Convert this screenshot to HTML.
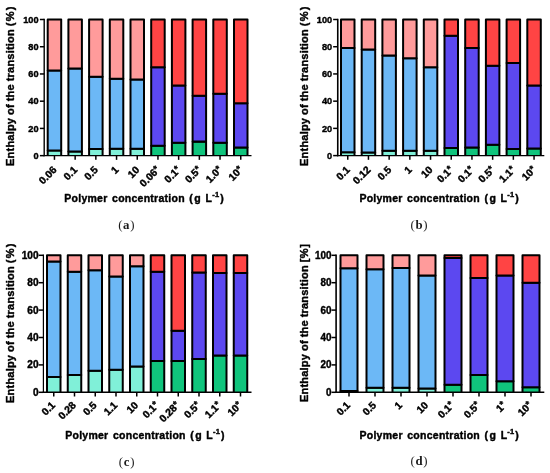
<!DOCTYPE html>
<html><head><meta charset="utf-8"><title>Figure</title>
<style>html,body{margin:0;padding:0;background:#fff}svg{display:block}</style></head>
<body>
<svg width="550" height="473" viewBox="0 0 550 473">
<rect width="100%" height="100%" fill="#fff"/>
<g id="chart-a" font-family="Liberation Sans, Arial, sans-serif" font-weight="bold" fill="#000" stroke="#000" stroke-width="0.4" stroke-linejoin="round">
<path d="M47.70,155.95L47.70,150.61L61.20,150.61L61.20,155.95" fill="#80f0d8" stroke="#000" stroke-width="2.0"/>
<rect x="47.70" y="70.56" width="13.50" height="80.06" fill="#6cb8f6" stroke="#000" stroke-width="2.0"/>
<rect x="47.70" y="19.40" width="13.50" height="51.16" fill="#ff9b9b" stroke="#000" stroke-width="2.0"/>
<line x1="54.45" y1="155.65" x2="54.45" y2="159.85" stroke="#000" stroke-width="1.5"/>
<text transform="translate(57.25,170.55) rotate(-45)" text-anchor="end" font-size="10.3">0.06</text>
<path d="M68.40,155.95L68.40,151.57L81.90,151.57L81.90,155.95" fill="#80f0d8" stroke="#000" stroke-width="2.0"/>
<rect x="68.40" y="68.51" width="13.50" height="83.05" fill="#6cb8f6" stroke="#000" stroke-width="2.0"/>
<rect x="68.40" y="19.40" width="13.50" height="49.11" fill="#ff9b9b" stroke="#000" stroke-width="2.0"/>
<line x1="75.15" y1="155.65" x2="75.15" y2="159.85" stroke="#000" stroke-width="1.5"/>
<text transform="translate(77.95,170.55) rotate(-45)" text-anchor="end" font-size="10.3">0.1</text>
<path d="M89.10,155.95L89.10,149.11L102.60,149.11L102.60,155.95" fill="#80f0d8" stroke="#000" stroke-width="2.0"/>
<rect x="89.10" y="76.68" width="13.50" height="72.43" fill="#6cb8f6" stroke="#000" stroke-width="2.0"/>
<rect x="89.10" y="19.40" width="13.50" height="57.28" fill="#ff9b9b" stroke="#000" stroke-width="2.0"/>
<line x1="95.85" y1="155.65" x2="95.85" y2="159.85" stroke="#000" stroke-width="1.5"/>
<text transform="translate(98.65,170.55) rotate(-45)" text-anchor="end" font-size="10.3">0.5</text>
<path d="M109.80,155.95L109.80,148.84L123.30,148.84L123.30,155.95" fill="#80f0d8" stroke="#000" stroke-width="2.0"/>
<rect x="109.80" y="78.73" width="13.50" height="70.12" fill="#6cb8f6" stroke="#000" stroke-width="2.0"/>
<rect x="109.80" y="19.40" width="13.50" height="59.33" fill="#ff9b9b" stroke="#000" stroke-width="2.0"/>
<line x1="116.55" y1="155.65" x2="116.55" y2="159.85" stroke="#000" stroke-width="1.5"/>
<text transform="translate(119.35,170.55) rotate(-45)" text-anchor="end" font-size="10.3">1</text>
<path d="M130.50,155.95L130.50,148.84L144.00,148.84L144.00,155.95" fill="#80f0d8" stroke="#000" stroke-width="2.0"/>
<rect x="130.50" y="79.41" width="13.50" height="69.44" fill="#6cb8f6" stroke="#000" stroke-width="2.0"/>
<rect x="130.50" y="19.40" width="13.50" height="60.01" fill="#ff9b9b" stroke="#000" stroke-width="2.0"/>
<line x1="137.25" y1="155.65" x2="137.25" y2="159.85" stroke="#000" stroke-width="1.5"/>
<text transform="translate(140.05,170.55) rotate(-45)" text-anchor="end" font-size="10.3">10</text>
<path d="M151.20,155.95L151.20,145.71L164.70,145.71L164.70,155.95" fill="#10c47c" stroke="#000" stroke-width="2.0"/>
<rect x="151.20" y="67.15" width="13.50" height="78.56" fill="#5c48f0" stroke="#000" stroke-width="2.0"/>
<rect x="151.20" y="19.40" width="13.50" height="47.75" fill="#ff4444" stroke="#000" stroke-width="2.0"/>
<line x1="157.95" y1="155.65" x2="157.95" y2="159.85" stroke="#000" stroke-width="1.5"/>
<text transform="translate(160.75,170.55) rotate(-45)" text-anchor="end" font-size="10.3">0.06<tspan dy="-1.5" dx="0.2" font-size="9.4">*</tspan></text>
<path d="M171.90,155.95L171.90,142.72L185.40,142.72L185.40,155.95" fill="#10c47c" stroke="#000" stroke-width="2.0"/>
<rect x="171.90" y="85.53" width="13.50" height="57.18" fill="#5c48f0" stroke="#000" stroke-width="2.0"/>
<rect x="171.90" y="19.40" width="13.50" height="66.13" fill="#ff4444" stroke="#000" stroke-width="2.0"/>
<line x1="178.65" y1="155.65" x2="178.65" y2="159.85" stroke="#000" stroke-width="1.5"/>
<text transform="translate(181.45,170.55) rotate(-45)" text-anchor="end" font-size="10.3">0.1<tspan dy="-1.5" dx="0.2" font-size="9.4">*</tspan></text>
<path d="M192.60,155.95L192.60,141.63L206.10,141.63L206.10,155.95" fill="#10c47c" stroke="#000" stroke-width="2.0"/>
<rect x="192.60" y="95.74" width="13.50" height="45.88" fill="#5c48f0" stroke="#000" stroke-width="2.0"/>
<rect x="192.60" y="19.40" width="13.50" height="76.34" fill="#ff4444" stroke="#000" stroke-width="2.0"/>
<line x1="199.35" y1="155.65" x2="199.35" y2="159.85" stroke="#000" stroke-width="1.5"/>
<text transform="translate(202.15,170.55) rotate(-45)" text-anchor="end" font-size="10.3">0.5<tspan dy="-1.5" dx="0.2" font-size="9.4">*</tspan></text>
<path d="M213.30,155.95L213.30,142.72L226.80,142.72L226.80,155.95" fill="#10c47c" stroke="#000" stroke-width="2.0"/>
<rect x="213.30" y="93.70" width="13.50" height="49.01" fill="#5c48f0" stroke="#000" stroke-width="2.0"/>
<rect x="213.30" y="19.40" width="13.50" height="74.30" fill="#ff4444" stroke="#000" stroke-width="2.0"/>
<line x1="220.05" y1="155.65" x2="220.05" y2="159.85" stroke="#000" stroke-width="1.5"/>
<text transform="translate(222.85,170.55) rotate(-45)" text-anchor="end" font-size="10.3">1.0<tspan dy="-1.5" dx="0.2" font-size="9.4">*</tspan></text>
<path d="M234.00,155.95L234.00,147.48L247.50,147.48L247.50,155.95" fill="#10c47c" stroke="#000" stroke-width="2.0"/>
<rect x="234.00" y="103.23" width="13.50" height="44.25" fill="#5c48f0" stroke="#000" stroke-width="2.0"/>
<rect x="234.00" y="19.40" width="13.50" height="83.83" fill="#ff4444" stroke="#000" stroke-width="2.0"/>
<line x1="240.75" y1="155.65" x2="240.75" y2="159.85" stroke="#000" stroke-width="1.5"/>
<text transform="translate(243.55,170.55) rotate(-45)" text-anchor="end" font-size="10.3">10<tspan dy="-1.5" dx="0.2" font-size="9.4">*</tspan></text>
<line x1="44.20" y1="18.80" x2="44.20" y2="156.35" stroke="#000" stroke-width="1.4"/>
<line x1="43.50" y1="155.65" x2="251.50" y2="155.65" stroke="#000" stroke-width="1.4"/>
<line x1="39.90" y1="155.65" x2="44.20" y2="155.65" stroke="#000" stroke-width="1.5"/>
<text transform="translate(38.60,158.85) scale(0.95,1)" text-anchor="end" font-size="9.7">0</text>
<line x1="39.90" y1="128.42" x2="44.20" y2="128.42" stroke="#000" stroke-width="1.5"/>
<text transform="translate(38.60,131.62) scale(0.95,1)" text-anchor="end" font-size="9.7">20</text>
<line x1="39.90" y1="101.19" x2="44.20" y2="101.19" stroke="#000" stroke-width="1.5"/>
<text transform="translate(38.60,104.39) scale(0.95,1)" text-anchor="end" font-size="9.7">40</text>
<line x1="39.90" y1="73.96" x2="44.20" y2="73.96" stroke="#000" stroke-width="1.5"/>
<text transform="translate(38.60,77.16) scale(0.95,1)" text-anchor="end" font-size="9.7">60</text>
<line x1="39.90" y1="46.73" x2="44.20" y2="46.73" stroke="#000" stroke-width="1.5"/>
<text transform="translate(38.60,49.93) scale(0.95,1)" text-anchor="end" font-size="9.7">80</text>
<line x1="39.90" y1="19.50" x2="44.20" y2="19.50" stroke="#000" stroke-width="1.5"/>
<text transform="translate(38.60,22.70) scale(0.95,1)" text-anchor="end" font-size="9.7">100</text>
<text class="yl" transform="translate(14.40,86.20) rotate(-90)" text-anchor="middle" font-size="11.1" letter-spacing="0.17" word-spacing="-0.4">Enthalpy of the transition (<tspan dx="1.0">%</tspan><tspan dx="1.0">)</tspan></text>
<text class="xl" x="144.10" y="201.80" text-anchor="middle" font-size="10.5" letter-spacing="0.26" word-spacing="1.3">Polymer concentration (<tspan dx="1.2">g</tspan> L<tspan font-size="7.5" dy="-4.6">-1</tspan><tspan dy="4.6" dx="0.8">)</tspan></text>
</g>
<text class="cap" x="126.65" y="228.80" text-anchor="middle" font-family="Liberation Serif, serif" font-size="12.8" letter-spacing="0.7" fill="#1a1a1a">(<tspan font-weight="bold">a</tspan>)</text>
<g id="chart-b" font-family="Liberation Sans, Arial, sans-serif" font-weight="bold" fill="#000" stroke="#000" stroke-width="0.4" stroke-linejoin="round">
<path d="M341.00,155.90L341.00,152.20L354.50,152.20L354.50,155.90" fill="#80f0d8" stroke="#000" stroke-width="2.0"/>
<rect x="341.00" y="48.08" width="13.50" height="104.12" fill="#6cb8f6" stroke="#000" stroke-width="2.0"/>
<rect x="341.00" y="19.40" width="13.50" height="28.68" fill="#ff9b9b" stroke="#000" stroke-width="2.0"/>
<line x1="347.75" y1="155.60" x2="347.75" y2="159.80" stroke="#000" stroke-width="1.5"/>
<text transform="translate(350.55,170.50) rotate(-45)" text-anchor="end" font-size="10.3">0.1</text>
<path d="M361.70,155.90L361.70,152.61L375.20,152.61L375.20,155.90" fill="#80f0d8" stroke="#000" stroke-width="2.0"/>
<rect x="361.70" y="49.44" width="13.50" height="103.16" fill="#6cb8f6" stroke="#000" stroke-width="2.0"/>
<rect x="361.70" y="19.40" width="13.50" height="30.04" fill="#ff9b9b" stroke="#000" stroke-width="2.0"/>
<line x1="368.45" y1="155.60" x2="368.45" y2="159.80" stroke="#000" stroke-width="1.5"/>
<text transform="translate(371.25,170.50) rotate(-45)" text-anchor="end" font-size="10.3">0.12</text>
<path d="M382.40,155.90L382.40,150.70L395.90,150.70L395.90,155.90" fill="#80f0d8" stroke="#000" stroke-width="2.0"/>
<rect x="382.40" y="55.57" width="13.50" height="95.13" fill="#6cb8f6" stroke="#000" stroke-width="2.0"/>
<rect x="382.40" y="19.40" width="13.50" height="36.17" fill="#ff9b9b" stroke="#000" stroke-width="2.0"/>
<line x1="389.15" y1="155.60" x2="389.15" y2="159.80" stroke="#000" stroke-width="1.5"/>
<text transform="translate(391.95,170.50) rotate(-45)" text-anchor="end" font-size="10.3">0.5</text>
<path d="M403.10,155.90L403.10,150.70L416.60,150.70L416.60,155.90" fill="#80f0d8" stroke="#000" stroke-width="2.0"/>
<rect x="403.10" y="58.29" width="13.50" height="92.41" fill="#6cb8f6" stroke="#000" stroke-width="2.0"/>
<rect x="403.10" y="19.40" width="13.50" height="38.89" fill="#ff9b9b" stroke="#000" stroke-width="2.0"/>
<line x1="409.85" y1="155.60" x2="409.85" y2="159.80" stroke="#000" stroke-width="1.5"/>
<text transform="translate(412.65,170.50) rotate(-45)" text-anchor="end" font-size="10.3">1</text>
<path d="M423.80,155.90L423.80,150.70L437.30,150.70L437.30,155.90" fill="#80f0d8" stroke="#000" stroke-width="2.0"/>
<rect x="423.80" y="67.13" width="13.50" height="83.57" fill="#6cb8f6" stroke="#000" stroke-width="2.0"/>
<rect x="423.80" y="19.40" width="13.50" height="47.73" fill="#ff9b9b" stroke="#000" stroke-width="2.0"/>
<line x1="430.55" y1="155.60" x2="430.55" y2="159.80" stroke="#000" stroke-width="1.5"/>
<text transform="translate(433.35,170.50) rotate(-45)" text-anchor="end" font-size="10.3">10</text>
<path d="M444.50,155.90L444.50,148.11L458.00,148.11L458.00,155.90" fill="#10c47c" stroke="#000" stroke-width="2.0"/>
<rect x="444.50" y="35.83" width="13.50" height="112.28" fill="#5c48f0" stroke="#000" stroke-width="2.0"/>
<rect x="444.50" y="19.40" width="13.50" height="16.43" fill="#ff4444" stroke="#000" stroke-width="2.0"/>
<line x1="451.25" y1="155.60" x2="451.25" y2="159.80" stroke="#000" stroke-width="1.5"/>
<text transform="translate(454.05,170.50) rotate(-45)" text-anchor="end" font-size="10.3">0.1<tspan dy="-1.5" dx="0.2" font-size="9.4">*</tspan></text>
<path d="M465.20,155.90L465.20,147.43L478.70,147.43L478.70,155.90" fill="#10c47c" stroke="#000" stroke-width="2.0"/>
<rect x="465.20" y="48.08" width="13.50" height="99.35" fill="#5c48f0" stroke="#000" stroke-width="2.0"/>
<rect x="465.20" y="19.40" width="13.50" height="28.68" fill="#ff4444" stroke="#000" stroke-width="2.0"/>
<line x1="471.95" y1="155.60" x2="471.95" y2="159.80" stroke="#000" stroke-width="1.5"/>
<text transform="translate(474.75,170.50) rotate(-45)" text-anchor="end" font-size="10.3">0.1<tspan dy="-1.5" dx="0.2" font-size="9.4">*</tspan></text>
<path d="M485.90,155.90L485.90,144.71L499.40,144.71L499.40,155.90" fill="#10c47c" stroke="#000" stroke-width="2.0"/>
<rect x="485.90" y="65.77" width="13.50" height="78.94" fill="#5c48f0" stroke="#000" stroke-width="2.0"/>
<rect x="485.90" y="19.40" width="13.50" height="46.37" fill="#ff4444" stroke="#000" stroke-width="2.0"/>
<line x1="492.65" y1="155.60" x2="492.65" y2="159.80" stroke="#000" stroke-width="1.5"/>
<text transform="translate(495.45,170.50) rotate(-45)" text-anchor="end" font-size="10.3">0.5<tspan dy="-1.5" dx="0.2" font-size="9.4">*</tspan></text>
<path d="M506.60,155.90L506.60,149.07L520.10,149.07L520.10,155.90" fill="#10c47c" stroke="#000" stroke-width="2.0"/>
<rect x="506.60" y="63.05" width="13.50" height="86.02" fill="#5c48f0" stroke="#000" stroke-width="2.0"/>
<rect x="506.60" y="19.40" width="13.50" height="43.65" fill="#ff4444" stroke="#000" stroke-width="2.0"/>
<line x1="513.35" y1="155.60" x2="513.35" y2="159.80" stroke="#000" stroke-width="1.5"/>
<text transform="translate(516.15,170.50) rotate(-45)" text-anchor="end" font-size="10.3">1.1<tspan dy="-1.5" dx="0.2" font-size="9.4">*</tspan></text>
<path d="M527.30,155.90L527.30,148.52L540.80,148.52L540.80,155.90" fill="#10c47c" stroke="#000" stroke-width="2.0"/>
<rect x="527.30" y="85.51" width="13.50" height="63.01" fill="#5c48f0" stroke="#000" stroke-width="2.0"/>
<rect x="527.30" y="19.40" width="13.50" height="66.11" fill="#ff4444" stroke="#000" stroke-width="2.0"/>
<line x1="534.05" y1="155.60" x2="534.05" y2="159.80" stroke="#000" stroke-width="1.5"/>
<text transform="translate(536.85,170.50) rotate(-45)" text-anchor="end" font-size="10.3">10<tspan dy="-1.5" dx="0.2" font-size="9.4">*</tspan></text>
<line x1="337.75" y1="18.80" x2="337.75" y2="156.30" stroke="#000" stroke-width="1.6"/>
<line x1="337.05" y1="155.60" x2="544.30" y2="155.60" stroke="#000" stroke-width="1.4"/>
<line x1="333.15" y1="155.60" x2="337.75" y2="155.60" stroke="#000" stroke-width="1.5"/>
<text transform="translate(332.15,158.80) scale(0.95,1)" text-anchor="end" font-size="9.7">0</text>
<line x1="333.15" y1="128.38" x2="337.75" y2="128.38" stroke="#000" stroke-width="1.5"/>
<text transform="translate(332.15,131.58) scale(0.95,1)" text-anchor="end" font-size="9.7">20</text>
<line x1="333.15" y1="101.16" x2="337.75" y2="101.16" stroke="#000" stroke-width="1.5"/>
<text transform="translate(332.15,104.36) scale(0.95,1)" text-anchor="end" font-size="9.7">40</text>
<line x1="333.15" y1="73.94" x2="337.75" y2="73.94" stroke="#000" stroke-width="1.5"/>
<text transform="translate(332.15,77.14) scale(0.95,1)" text-anchor="end" font-size="9.7">60</text>
<line x1="333.15" y1="46.72" x2="337.75" y2="46.72" stroke="#000" stroke-width="1.5"/>
<text transform="translate(332.15,49.92) scale(0.95,1)" text-anchor="end" font-size="9.7">80</text>
<line x1="333.15" y1="19.50" x2="337.75" y2="19.50" stroke="#000" stroke-width="1.5"/>
<text transform="translate(332.15,22.70) scale(0.95,1)" text-anchor="end" font-size="9.7">100</text>
<text class="yl" transform="translate(307.50,86.20) rotate(-90)" text-anchor="middle" font-size="11.1" letter-spacing="0.17" word-spacing="-0.4">Enthalpy of the transition (<tspan dx="1.0">%</tspan><tspan dx="1.0">)</tspan></text>
<text class="xl" x="439.20" y="202.00" text-anchor="middle" font-size="10.5" letter-spacing="0.26" word-spacing="1.3">Polymer concentration (<tspan dx="1.2">g</tspan> L<tspan font-size="7.5" dy="-4.6">-1</tspan><tspan dy="4.6" dx="0.8">)</tspan></text>
</g>
<text class="cap" x="419.45" y="228.70" text-anchor="middle" font-family="Liberation Serif, serif" font-size="12.8" letter-spacing="0.7" fill="#1a1a1a">(<tspan font-weight="bold">b</tspan>)</text>
<g id="chart-c" font-family="Liberation Sans, Arial, sans-serif" font-weight="bold" fill="#000" stroke="#000" stroke-width="0.4" stroke-linejoin="round">
<path d="M47.00,392.60L47.00,376.96L60.50,376.96L60.50,392.60" fill="#80f0d8" stroke="#000" stroke-width="2.0"/>
<rect x="47.00" y="261.47" width="13.50" height="115.49" fill="#6cb8f6" stroke="#000" stroke-width="2.0"/>
<rect x="47.00" y="255.20" width="13.50" height="6.27" fill="#ff9b9b" stroke="#000" stroke-width="2.0"/>
<line x1="53.75" y1="392.30" x2="53.75" y2="396.50" stroke="#000" stroke-width="1.5"/>
<text transform="translate(55.85,405.90) rotate(-45)" text-anchor="end" font-size="10.3">0.1</text>
<path d="M67.75,392.60L67.75,374.90L81.25,374.90L81.25,392.60" fill="#80f0d8" stroke="#000" stroke-width="2.0"/>
<rect x="67.75" y="271.74" width="13.50" height="103.16" fill="#6cb8f6" stroke="#000" stroke-width="2.0"/>
<rect x="67.75" y="255.20" width="13.50" height="16.54" fill="#ff9b9b" stroke="#000" stroke-width="2.0"/>
<line x1="74.50" y1="392.30" x2="74.50" y2="396.50" stroke="#000" stroke-width="1.5"/>
<text transform="translate(76.60,405.90) rotate(-45)" text-anchor="end" font-size="10.3">0.28</text>
<path d="M88.50,392.60L88.50,370.79L102.00,370.79L102.00,392.60" fill="#80f0d8" stroke="#000" stroke-width="2.0"/>
<rect x="88.50" y="270.37" width="13.50" height="100.42" fill="#6cb8f6" stroke="#000" stroke-width="2.0"/>
<rect x="88.50" y="255.20" width="13.50" height="15.17" fill="#ff9b9b" stroke="#000" stroke-width="2.0"/>
<line x1="95.25" y1="392.30" x2="95.25" y2="396.50" stroke="#000" stroke-width="1.5"/>
<text transform="translate(97.35,405.90) rotate(-45)" text-anchor="end" font-size="10.3">0.5</text>
<path d="M109.25,392.60L109.25,369.69L122.75,369.69L122.75,392.60" fill="#80f0d8" stroke="#000" stroke-width="2.0"/>
<rect x="109.25" y="276.53" width="13.50" height="93.16" fill="#6cb8f6" stroke="#000" stroke-width="2.0"/>
<rect x="109.25" y="255.20" width="13.50" height="21.33" fill="#ff9b9b" stroke="#000" stroke-width="2.0"/>
<line x1="116.00" y1="392.30" x2="116.00" y2="396.50" stroke="#000" stroke-width="1.5"/>
<text transform="translate(118.10,405.90) rotate(-45)" text-anchor="end" font-size="10.3">1.1</text>
<path d="M130.00,392.60L130.00,366.54L143.50,366.54L143.50,392.60" fill="#80f0d8" stroke="#000" stroke-width="2.0"/>
<rect x="130.00" y="266.26" width="13.50" height="100.28" fill="#6cb8f6" stroke="#000" stroke-width="2.0"/>
<rect x="130.00" y="255.20" width="13.50" height="11.06" fill="#ff9b9b" stroke="#000" stroke-width="2.0"/>
<line x1="136.75" y1="392.30" x2="136.75" y2="396.50" stroke="#000" stroke-width="1.5"/>
<text transform="translate(138.85,405.90) rotate(-45)" text-anchor="end" font-size="10.3">10</text>
<path d="M150.75,392.60L150.75,361.06L164.25,361.06L164.25,392.60" fill="#10c47c" stroke="#000" stroke-width="2.0"/>
<rect x="150.75" y="271.74" width="13.50" height="89.32" fill="#5c48f0" stroke="#000" stroke-width="2.0"/>
<rect x="150.75" y="255.20" width="13.50" height="16.54" fill="#ff4444" stroke="#000" stroke-width="2.0"/>
<line x1="157.50" y1="392.30" x2="157.50" y2="396.50" stroke="#000" stroke-width="1.5"/>
<text transform="translate(159.60,405.90) rotate(-45)" text-anchor="end" font-size="10.3">0.1<tspan dy="-1.5" dx="0.2" font-size="9.4">*</tspan></text>
<path d="M171.50,392.60L171.50,361.06L185.00,361.06L185.00,392.60" fill="#10c47c" stroke="#000" stroke-width="2.0"/>
<rect x="171.50" y="330.65" width="13.50" height="30.41" fill="#5c48f0" stroke="#000" stroke-width="2.0"/>
<rect x="171.50" y="255.20" width="13.50" height="75.45" fill="#ff4444" stroke="#000" stroke-width="2.0"/>
<line x1="178.25" y1="392.30" x2="178.25" y2="396.50" stroke="#000" stroke-width="1.5"/>
<text transform="translate(180.35,405.90) rotate(-45)" text-anchor="end" font-size="10.3">0.28<tspan dy="-1.5" dx="0.2" font-size="9.4">*</tspan></text>
<path d="M192.25,392.60L192.25,359.01L205.75,359.01L205.75,392.60" fill="#10c47c" stroke="#000" stroke-width="2.0"/>
<rect x="192.25" y="272.43" width="13.50" height="86.58" fill="#5c48f0" stroke="#000" stroke-width="2.0"/>
<rect x="192.25" y="255.20" width="13.50" height="17.22" fill="#ff4444" stroke="#000" stroke-width="2.0"/>
<line x1="199.00" y1="392.30" x2="199.00" y2="396.50" stroke="#000" stroke-width="1.5"/>
<text transform="translate(201.10,405.90) rotate(-45)" text-anchor="end" font-size="10.3">0.5<tspan dy="-1.5" dx="0.2" font-size="9.4">*</tspan></text>
<path d="M213.00,392.60L213.00,355.58L226.50,355.58L226.50,392.60" fill="#10c47c" stroke="#000" stroke-width="2.0"/>
<rect x="213.00" y="273.11" width="13.50" height="82.47" fill="#5c48f0" stroke="#000" stroke-width="2.0"/>
<rect x="213.00" y="255.20" width="13.50" height="17.91" fill="#ff4444" stroke="#000" stroke-width="2.0"/>
<line x1="219.75" y1="392.30" x2="219.75" y2="396.50" stroke="#000" stroke-width="1.5"/>
<text transform="translate(221.85,405.90) rotate(-45)" text-anchor="end" font-size="10.3">1.1<tspan dy="-1.5" dx="0.2" font-size="9.4">*</tspan></text>
<path d="M233.75,392.60L233.75,355.58L247.25,355.58L247.25,392.60" fill="#10c47c" stroke="#000" stroke-width="2.0"/>
<rect x="233.75" y="273.11" width="13.50" height="82.47" fill="#5c48f0" stroke="#000" stroke-width="2.0"/>
<rect x="233.75" y="255.20" width="13.50" height="17.91" fill="#ff4444" stroke="#000" stroke-width="2.0"/>
<line x1="240.50" y1="392.30" x2="240.50" y2="396.50" stroke="#000" stroke-width="1.5"/>
<text transform="translate(242.60,405.90) rotate(-45)" text-anchor="end" font-size="10.3">10<tspan dy="-1.5" dx="0.2" font-size="9.4">*</tspan></text>
<line x1="43.40" y1="254.60" x2="43.40" y2="393.00" stroke="#000" stroke-width="1.2"/>
<line x1="42.70" y1="392.30" x2="251.50" y2="392.30" stroke="#000" stroke-width="1.4"/>
<line x1="38.70" y1="392.30" x2="43.40" y2="392.30" stroke="#000" stroke-width="1.5"/>
<text transform="translate(38.60,395.80) scale(1,1)" text-anchor="end" font-size="10.1">0</text>
<line x1="38.70" y1="364.90" x2="43.40" y2="364.90" stroke="#000" stroke-width="1.5"/>
<text transform="translate(38.60,368.40) scale(1,1)" text-anchor="end" font-size="10.1">20</text>
<line x1="38.70" y1="337.50" x2="43.40" y2="337.50" stroke="#000" stroke-width="1.5"/>
<text transform="translate(38.60,341.00) scale(1,1)" text-anchor="end" font-size="10.1">40</text>
<line x1="38.70" y1="310.10" x2="43.40" y2="310.10" stroke="#000" stroke-width="1.5"/>
<text transform="translate(38.60,313.60) scale(1,1)" text-anchor="end" font-size="10.1">60</text>
<line x1="38.70" y1="282.70" x2="43.40" y2="282.70" stroke="#000" stroke-width="1.5"/>
<text transform="translate(38.60,286.20) scale(1,1)" text-anchor="end" font-size="10.1">80</text>
<line x1="38.70" y1="255.30" x2="43.40" y2="255.30" stroke="#000" stroke-width="1.5"/>
<text transform="translate(38.60,258.80) scale(1,1)" text-anchor="end" font-size="10.1">100</text>
<text class="yl" transform="translate(14.40,323.20) rotate(-90)" text-anchor="middle" font-size="11.1" letter-spacing="0.17" word-spacing="-0.4">Enthalpy of the transition (<tspan dx="1.0">%</tspan><tspan dx="1.0">)</tspan></text>
<text class="xl" x="145.00" y="438.90" text-anchor="middle" font-size="10.5" letter-spacing="0.26" word-spacing="1.3">Polymer concentration (<tspan dx="1.2">g</tspan> L<tspan font-size="7.5" dy="-4.6">-1</tspan><tspan dy="4.6" dx="0.8">)</tspan></text>
</g>
<text class="cap" x="126.95" y="465.60" text-anchor="middle" font-family="Liberation Serif, serif" font-size="12.8" letter-spacing="0.7" fill="#1a1a1a">(<tspan font-weight="bold">c</tspan>)</text>
<g id="chart-d" font-family="Liberation Sans, Arial, sans-serif" font-weight="bold" fill="#000" stroke="#000" stroke-width="0.4" stroke-linejoin="round">
<path d="M340.50,392.60L340.50,391.07L357.50,391.07L357.50,392.60" fill="#80f0d8" stroke="#000" stroke-width="2.0"/>
<rect x="340.50" y="268.31" width="17.00" height="122.75" fill="#6cb8f6" stroke="#000" stroke-width="2.0"/>
<rect x="340.50" y="255.20" width="17.00" height="13.11" fill="#ff9b9b" stroke="#000" stroke-width="2.0"/>
<line x1="349.00" y1="392.30" x2="349.00" y2="396.50" stroke="#000" stroke-width="1.5"/>
<text transform="translate(350.90,405.90) rotate(-45)" text-anchor="end" font-size="10.3">0.1</text>
<path d="M366.50,392.60L366.50,387.78L383.50,387.78L383.50,392.60" fill="#80f0d8" stroke="#000" stroke-width="2.0"/>
<rect x="366.50" y="269.14" width="17.00" height="118.64" fill="#6cb8f6" stroke="#000" stroke-width="2.0"/>
<rect x="366.50" y="255.20" width="17.00" height="13.94" fill="#ff9b9b" stroke="#000" stroke-width="2.0"/>
<line x1="375.00" y1="392.30" x2="375.00" y2="396.50" stroke="#000" stroke-width="1.5"/>
<text transform="translate(376.90,405.90) rotate(-45)" text-anchor="end" font-size="10.3">0.5</text>
<path d="M392.50,392.60L392.50,387.78L409.50,387.78L409.50,392.60" fill="#80f0d8" stroke="#000" stroke-width="2.0"/>
<rect x="392.50" y="267.90" width="17.00" height="119.88" fill="#6cb8f6" stroke="#000" stroke-width="2.0"/>
<rect x="392.50" y="255.20" width="17.00" height="12.70" fill="#ff9b9b" stroke="#000" stroke-width="2.0"/>
<line x1="401.00" y1="392.30" x2="401.00" y2="396.50" stroke="#000" stroke-width="1.5"/>
<text transform="translate(402.90,405.90) rotate(-45)" text-anchor="end" font-size="10.3">1</text>
<path d="M418.50,392.60L418.50,388.60L435.50,388.60L435.50,392.60" fill="#80f0d8" stroke="#000" stroke-width="2.0"/>
<rect x="418.50" y="275.44" width="17.00" height="113.16" fill="#6cb8f6" stroke="#000" stroke-width="2.0"/>
<rect x="418.50" y="255.20" width="17.00" height="20.24" fill="#ff9b9b" stroke="#000" stroke-width="2.0"/>
<line x1="427.00" y1="392.30" x2="427.00" y2="396.50" stroke="#000" stroke-width="1.5"/>
<text transform="translate(428.90,405.90) rotate(-45)" text-anchor="end" font-size="10.3">10</text>
<path d="M444.50,392.60L444.50,384.63L461.50,384.63L461.50,392.60" fill="#10c47c" stroke="#000" stroke-width="2.0"/>
<rect x="444.50" y="258.04" width="17.00" height="126.59" fill="#5c48f0" stroke="#000" stroke-width="2.0"/>
<rect x="444.50" y="255.20" width="17.00" height="2.84" fill="#ff4444" stroke="#000" stroke-width="2.0"/>
<line x1="453.00" y1="392.30" x2="453.00" y2="396.50" stroke="#000" stroke-width="1.5"/>
<text transform="translate(454.90,405.90) rotate(-45)" text-anchor="end" font-size="10.3">0.1<tspan dy="-1.5" dx="0.2" font-size="9.4">*</tspan></text>
<path d="M470.50,392.60L470.50,374.90L487.50,374.90L487.50,392.60" fill="#10c47c" stroke="#000" stroke-width="2.0"/>
<rect x="470.50" y="278.04" width="17.00" height="96.86" fill="#5c48f0" stroke="#000" stroke-width="2.0"/>
<rect x="470.50" y="255.20" width="17.00" height="22.84" fill="#ff4444" stroke="#000" stroke-width="2.0"/>
<line x1="479.00" y1="392.30" x2="479.00" y2="396.50" stroke="#000" stroke-width="1.5"/>
<text transform="translate(480.90,405.90) rotate(-45)" text-anchor="end" font-size="10.3">0.5<tspan dy="-1.5" dx="0.2" font-size="9.4">*</tspan></text>
<path d="M496.50,392.60L496.50,381.34L513.50,381.34L513.50,392.60" fill="#10c47c" stroke="#000" stroke-width="2.0"/>
<rect x="496.50" y="275.44" width="17.00" height="105.90" fill="#5c48f0" stroke="#000" stroke-width="2.0"/>
<rect x="496.50" y="255.20" width="17.00" height="20.24" fill="#ff4444" stroke="#000" stroke-width="2.0"/>
<line x1="505.00" y1="392.30" x2="505.00" y2="396.50" stroke="#000" stroke-width="1.5"/>
<text transform="translate(506.90,405.90) rotate(-45)" text-anchor="end" font-size="10.3">1<tspan dy="-1.5" dx="0.2" font-size="9.4">*</tspan></text>
<path d="M522.50,392.60L522.50,387.23L539.50,387.23L539.50,392.60" fill="#10c47c" stroke="#000" stroke-width="2.0"/>
<rect x="522.50" y="282.70" width="17.00" height="104.53" fill="#5c48f0" stroke="#000" stroke-width="2.0"/>
<rect x="522.50" y="255.20" width="17.00" height="27.50" fill="#ff4444" stroke="#000" stroke-width="2.0"/>
<line x1="531.00" y1="392.30" x2="531.00" y2="396.50" stroke="#000" stroke-width="1.5"/>
<text transform="translate(532.90,405.90) rotate(-45)" text-anchor="end" font-size="10.3">10<tspan dy="-1.5" dx="0.2" font-size="9.4">*</tspan></text>
<line x1="336.10" y1="254.60" x2="336.10" y2="393.00" stroke="#000" stroke-width="1.6"/>
<line x1="335.40" y1="392.30" x2="544.30" y2="392.30" stroke="#000" stroke-width="1.4"/>
<line x1="331.50" y1="392.30" x2="336.10" y2="392.30" stroke="#000" stroke-width="1.5"/>
<text transform="translate(331.40,395.80) scale(0.98,1)" text-anchor="end" font-size="10.1">0</text>
<line x1="331.50" y1="364.90" x2="336.10" y2="364.90" stroke="#000" stroke-width="1.5"/>
<text transform="translate(331.40,368.40) scale(0.98,1)" text-anchor="end" font-size="10.1">20</text>
<line x1="331.50" y1="337.50" x2="336.10" y2="337.50" stroke="#000" stroke-width="1.5"/>
<text transform="translate(331.40,341.00) scale(0.98,1)" text-anchor="end" font-size="10.1">40</text>
<line x1="331.50" y1="310.10" x2="336.10" y2="310.10" stroke="#000" stroke-width="1.5"/>
<text transform="translate(331.40,313.60) scale(0.98,1)" text-anchor="end" font-size="10.1">60</text>
<line x1="331.50" y1="282.70" x2="336.10" y2="282.70" stroke="#000" stroke-width="1.5"/>
<text transform="translate(331.40,286.20) scale(0.98,1)" text-anchor="end" font-size="10.1">80</text>
<line x1="331.50" y1="255.30" x2="336.10" y2="255.30" stroke="#000" stroke-width="1.5"/>
<text transform="translate(331.40,258.80) scale(0.98,1)" text-anchor="end" font-size="10.1">100</text>
<text class="yl" transform="translate(307.50,323.00) rotate(-90)" text-anchor="middle" font-size="11.1" letter-spacing="0.17" word-spacing="-0.4">Enthalpy of the transition [<tspan dx="0.3">%</tspan><tspan dx="0.3">]</tspan></text>
<text class="xl" x="439.30" y="439.00" text-anchor="middle" font-size="10.5" letter-spacing="0.26" word-spacing="1.3">Polymer concentration (<tspan dx="1.2">g</tspan> L<tspan font-size="7.5" dy="-4.6">-1</tspan><tspan dy="4.6" dx="0.8">)</tspan></text>
</g>
<text class="cap" x="419.45" y="465.40" text-anchor="middle" font-family="Liberation Serif, serif" font-size="12.8" letter-spacing="0.7" fill="#1a1a1a">(<tspan font-weight="bold">d</tspan>)</text>
</svg>
</body></html>
